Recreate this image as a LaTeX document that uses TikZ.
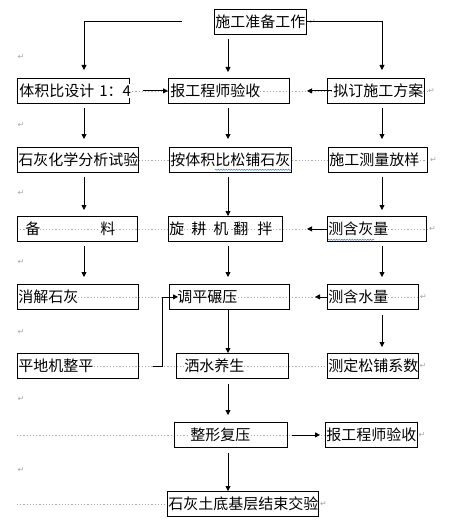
\documentclass[tikz,border=0pt]{standalone}
\usepackage{fontspec}
\setmainfont{Noto Sans CJK SC}
\newfontfamily\symf{DejaVu Sans}
\usetikzlibrary{arrows.meta,calc,decorations.pathmorphing}
\pgfdeclarelayer{bg}
\pgfsetlayers{bg,main}
\newcommand\wt[1]{{\setlength\fboxsep{0pt}\colorbox{white}{#1}}}
\definecolor{markgray}{HTML}{A6A6A6}
\definecolor{wavyblue}{HTML}{4A6FC9}
\begin{document}
\begin{tikzpicture}[x=1pt,y=-1pt,
 box/.style={draw, line width=0.8pt, anchor=north west, minimum height=25pt, inner xsep=1pt, inner ysep=0pt, align=left, font=\fontsize{15}{18}\selectfont},
 arr/.style={line width=0.8pt, -{Triangle[length=5pt,width=5pt]}},
 leader/.style={markgray, line width=0.6pt, dash pattern=on 1.2pt off 2pt},
 ret/.style={markgray, font=\symf\fontsize{8}{8}\selectfont, inner sep=0pt},
 wavy/.style={wavyblue, line width=0.5pt, decorate, decoration={snake, amplitude=0.6pt, segment length=2.6pt}}]
\useasboundingbox (0,0) rectangle (472,532);
\coordinate (cL) at (84,0);
\coordinate (cC) at (228,0);
\coordinate (cR) at (382,0);
% boxes
\node[box, text width=90pt]  (top) at (214,9)  {\mbox{\wt{施工准备工作}}};
\node[box, text width=110pt] (b21) at (17,78)  {\mbox{\hspace*{1pt}\wt{体积比设计 1：4}}};
\node[box, text width=119pt] (b22) at (168,78) {\mbox{\hspace*{1pt}\wt{报工程师验收}}};
\node[box, text width=95pt]  (b23) at (327,78) {\mbox{\hspace*{5pt}\wt{拟订施工方案}}};
\node[box, text width=119pt] (b31) at (17,147) {\mbox{\wt{石灰化学分析试验}}};
\node[box, text width=120pt] (b32) at (169,147) {\mbox{\wt{按体积比松铺石灰}}};
\node[box, text width=97pt]  (b33) at (328,147) {\mbox{\wt{施工测量放样}}};
\node[box, text width=118pt] (b41) at (17,216) {\mbox{\hspace*{7pt}\wt{备}\hspace{60pt}\wt{料}}};
\node[box, text width=112pt] (b42) at (168,216) {\mbox{\wt{旋}\hspace{7pt}\wt{耕}\hspace{7pt}\wt{机}\hspace{5pt}\wt{翻}\hspace{9pt}\wt{拌}}};
\node[box, text width=97pt]  (b43) at (327,216) {\mbox{\wt{测含灰量}}};
\node[box, text width=119pt] (b51) at (17,284) {\mbox{\wt{消解石灰}}};
\node[box, text width=118pt] (b52) at (169,284) {\mbox{\hspace*{7pt}\wt{调平碾压}}};
\node[box, text width=89pt]  (b53) at (327,284) {\mbox{\wt{测含水量}}};
\node[box, text width=119pt] (b61) at (17,353) {\mbox{\wt{平地机整平}}};
\node[box, text width=110pt] (b62) at (176,353) {\mbox{\hspace*{7pt}\wt{洒水养生}}};
\node[box, text width=89pt]  (b63) at (327,353) {\mbox{\wt{测定松铺系数}}};
\node[box, text width=111pt] (b71) at (174,422) {\mbox{\hspace*{15pt}\wt{整形复压}}};
\node[box, text width=90pt]  (b72) at (325,422) {\mbox{\wt{报工程师验收}}};
\node[box, text width=149pt] (b81) at (167,491) {\mbox{\wt{石灰土底基层结束交验}}};
% return marks
\node[ret, anchor=west] (rt1) at ($(top.east)+(2,0)$) {↵};
\node[ret, anchor=west] (rt2) at ($(b23.east)+(3,0)$) {↵};
\node[ret, anchor=west] (rt3) at ($(b33.east)+(2,0)$) {↵};
\node[ret, anchor=west] (rt4) at ($(b43.east)+(2,0)$) {↵};
\node[ret, anchor=west] (rt5) at ($(b53.east)+(1,0)$) {↵};
\node[ret, anchor=west] (rt6) at ($(b63.east)+(0.5,0)$) {↵};
\node[ret, anchor=west] (rt7) at ($(b72.east)+(0.5,0)$) {↵};
\node[ret, anchor=west] (rt8) at ($(b81.east)+(1,0)$) {↵};
\node[ret] (m1) at (21,57) {↵};
\node[ret] (m2) at (21,125) {↵};
\node[ret] (m3) at (21,193) {↵};
\node[ret] (m4) at (21,262) {↵};
\node[ret] (m5) at (21,332) {↵};
\node[ret] (m6) at (21,399) {↵};
\node[ret] (m7) at (21,470) {↵};
% tab leaders
\begin{pgfonlayer}{bg}
\draw[leader] (b21.west) -- (rt2.west);
\draw[leader] (b31.west) -- (rt3.west);
\draw[leader] (b41.west) -- (rt4.west);
\draw[leader] (b51.west) -- (rt5.west);
\draw[leader] (b61.west) -- (rt6.west);
\draw[leader] (b71.west -| b61.west) -- (rt7.west);
\draw[leader] (b81.west -| b61.west) -- (rt8.west);
\end{pgfonlayer}
% spelling marks
\draw[wavy] ($(b32.south west)+(46,-3)$) -- ($(b32.south east)+(0,-3)$);
\draw[wavy] ($(b43.south west)+(1,-2)$) -- ($(b43.south west)+(47,-2)$);
% connectors from top
\draw[arr] ($(top.west)+(-32,0)$) -| ($(b21.north -| cL)+(0,-8)$);
\draw[arr] (top.east) -| ($(b23.north -| cR)+(0,-8)$);
\draw[arr] ($(top.south -| cC)+(0,4)$) -- ($(b22.north -| cC)+(0,-6)$);
% row2 -> row3
\draw[arr] ($(b21.south -| cL)+(0,4)$) -- ($(b31.north -| cL)+(0,-8)$);
\draw[arr] ($(b22.south -| cC)+(0,4)$) -- ($(b32.north -| cC)+(0,-8)$);
\draw[arr] ($(b23.south -| cR)+(0,4)$) -- ($(b33.north -| cR)+(0,-8)$);
% row3 -> row4
\draw[arr] ($(b31.south -| cL)+(0,4)$) -- ($(b41.north -| cL)+(0,-6)$);
\draw[arr] ($(b32.south -| cC)+(0,4)$) -- (b42.north -| cC);
\draw[arr] ($(b33.south -| cR)+(0,4)$) -- ($(b43.north -| cR)+(0,-6)$);
% row4 -> row5
\draw[arr] ($(b41.south -| cL)+(0,4)$) -- ($(b51.north -| cL)+(0,-7)$);
\draw[arr] ($(b42.south -| cC)+(0,4)$) -- ($(b52.north -| cC)+(0,-7)$);
\draw[arr] ($(b43.south -| cR)+(0,4)$) -- ($(b53.north -| cR)+(0,-7)$);
% row5 -> row6
\draw[arr] (b52.south -| cC) -- (b62.north -| cC);
\draw[arr] ($(b53.south -| cR)+(0,5)$) -- ($(b63.north -| cR)+(0,-6)$);
% row6 -> row7 -> row8
\draw[arr] ($(b62.south -| cC)+(0,5)$) -- ($(b71.north -| cC)+(0,-7)$);
\draw[arr] ($(b71.south -| cC)+(0,5)$) -- (b81.north -| cC);
% horizontal connectors
\draw[arr] ($(b21.east)+(13,0)$) -- (b22.west);
\draw[arr] ($(b23.west)+(5,0)$) -- ($(b23.west)+(-20,0)$);
\draw[arr] (b43.west) -- ($(b43.west)+(-20,0)$);
\draw[arr] (b53.west) -- ($(b53.west)+(-12,0)$);
\draw[arr] ($(b61.east)+(14,0)$) -- ++(10,0) |- ($(b52.west)+(9,0)$);
\draw[arr] ($(b71.east)+(4,0)$) -- ($(b72.west)+(-5,0)$);
\end{tikzpicture}
\end{document}
